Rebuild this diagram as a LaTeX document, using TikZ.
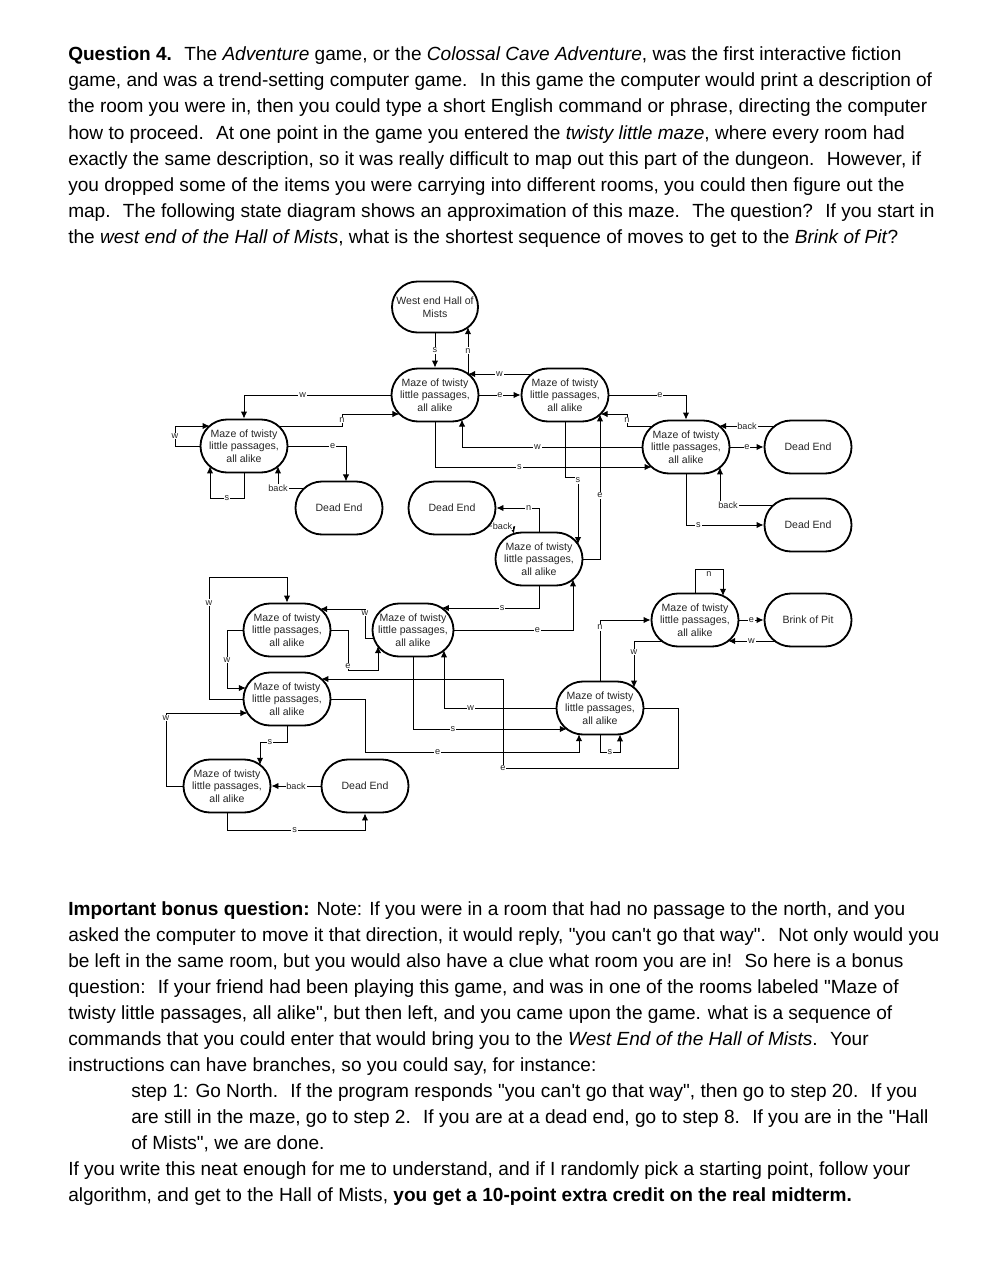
\documentclass[tikz,border=0pt]{standalone}
\usepackage{fontspec}
\setmainfont{Liberation Sans}[Ligatures=TeXOff]
\usetikzlibrary{calc,arrows.meta}
\tikzset{
  room/.style={draw, line width=1.3pt, rounded corners=0.6625cm, minimum width=2.175cm, minimum height=1.325cm, inner sep=0pt, align=center, font=\fontsize{7.5}{8.9}\selectfont, text=black!85},
  arr/.style={line width=0.65pt, -{Latex[length=5pt,width=4.5pt]}},
  lbl/.style={font=\fontsize{6.5}{7}\selectfont, fill=white, inner sep=0.6pt, text=black!85},
  para/.style={anchor=base west, inner sep=0pt, font=\fontsize{13.55}{18.4}\selectfont},
}
\newcommand{\maze}{Maze of twisty\\little passages,\\all alike}
\begin{document}
\begin{tikzpicture}[x=0.025cm,y=-0.025cm]
\fill[white] (0,0) rectangle (994,1268);
\useasboundingbox (0,0) rectangle (994,1268);

% ---------- text ----------
\node[para] (q1) at (68,61) {\textbf{Question 4.}~ The \textit{Adventure} game, or the \textit{Colossal Cave Adventure}, was the first interactive fiction};
\node[para] (q2) at (68,87) {game, and was a trend-setting computer game.~ In this game the computer would print a description of};
\node[para] (q3) at (68,113) {the room you were in, then you could type a short English command or phrase, directing the computer};
\node[para] (q4) at (68,139) {how to proceed.~ At one point in the game you entered the \textit{twisty little maze}, where every room had};
\node[para] (q5) at (68,165) {exactly the same description, so it was really difficult to map out this part of the dungeon.~ However, if};
\node[para] (q6) at (68,191) {you dropped some of the items you were carrying into different rooms, you could then figure out the};
\node[para] (q7) at (68,217) {map.~ The following state diagram shows an approximation of this maze.~ The question?~ If you start in};
\node[para] (q8) at (68,243) {the \textit{west end of the Hall of Mists}, what is the shortest sequence of moves to get to the \textit{Brink of Pit}?};

\node[para] (b1) at (68,915) {\textbf{Important bonus question:} Note: If you were in a room that had no passage to the north, and you};
\node[para] (b2) at (68,941) {asked the computer to move it that direction, it would reply, "you can't go that way".~ Not only would you};
\node[para] (b3) at (68,967) {be left in the same room, but you would also have a clue what room you are in!~ So here is a bonus};
\node[para] (b4) at (68,993) {question:~ If your friend had been playing this game, and was in one of the rooms labeled "Maze of};
\node[para] (b5) at (68,1019) {twisty little passages, all alike", but then left, and you came upon the game. what is a sequence of};
\node[para] (b6) at (68,1045) {commands that you could enter that would bring you to the \textit{West End of the Hall of Mists}.~ Your};
\node[para] (b7) at (68,1071) {instructions can have branches, so you could say, for instance:};
\node[para] (b8) at (131,1097) {step 1: Go North.~ If the program responds "you can't go that way", then go to step 20.~ If you};
\node[para] (b9) at (131,1123) {are still in the maze, go to step 2.~ If you are at a dead end, go to step 8.~ If you are in the "Hall};
\node[para] (b10) at (131,1149) {of Mists", we are done.};
\node[para] (b11) at (68,1175) {If you write this neat enough for me to understand, and if I randomly pick a starting point, follow your};
\node[para] (b12) at (68,1201) {algorithm, and get to the Hall of Mists, \textbf{you get a 10-point extra credit on the real midterm.}};

% ---------- rooms ----------
\node[room, minimum width=2.15cm, minimum height=1.275cm, rounded corners=0.6375cm] (WE) at (435,307) {West end Hall of\\Mists};
\node[room] (M1) at (435,395) {\maze};
\node[room] (M2) at (565,395) {\maze};
\node[room] (M3) at (686,447) {\maze};
\node[room] (DR1) at (808,447) {Dead End};
\node[room] (DR2) at (808,525) {Dead End};
\node[room] (M4) at (244,446) {\maze};
\node[room] (DL) at (339,508) {Dead End};
\node[room] (DM) at (452,508) {Dead End};
\node[room] (M5) at (539,559) {\maze};
\node[room] (M6) at (287,630) {\maze};
\node[room, minimum width=2.025cm] (M7) at (413,630) {\maze};
\node[room] (M8) at (287,699) {\maze};
\node[room] (M9) at (227,786) {\maze};
\node[room] (DB) at (365,786) {Dead End};
\node[room] (M10) at (695,620) {\maze};
\node[room] (BP) at (808,620) {Brink of Pit};
\node[room] (M11) at (600,708) {\maze};

% ---------- connectors ----------
\draw[arr] (WE.south) -- node[lbl]{s} (M1.north);
\draw[arr] ($(M1)+(33,-21.1)$) -- node[lbl]{n} ($(WE)+(33,20.2)$);
\draw[arr] ($(M2)+(-34.4,-21)$) -- node[lbl]{w} ($(M1)+(33.2,-21)$);
\draw[arr] (M1.east) -- node[lbl]{e} (M2.west);
\draw[arr] (M1.west) -| node[lbl,pos=0.3]{w} (M4.north);
\draw[arr] ($(M4)+(34.4,-20)$) -- (342,426) -- node[lbl]{n} (342,414) -- ($(M1)+(-35.5,19)$);
\draw[arr] (M4.west) -- (175,446) -- node[lbl]{w} (175,426) -- ($(M4)+(-34.4,-20)$);
\draw[arr] (M4.south) -- (244,498) -- node[lbl]{s} (210,498) -- ($(M4)+(-34,20.3)$);
\draw[arr] ($(DL)+(-34.4,-20)$) -- (278,488) node[lbl]{back} -- ($(M4)+(34,20.3)$);
\draw[arr] (M4.east) -- node[lbl,pos=0.77]{e} (346,446) -- ($(DL)+(7,-26.5)$);
\draw[arr] (M2.east) -| node[lbl,pos=0.33]{e} (M3.north);
\draw[arr] ($(M3)+(-33.2,-21)$) -- (627,426) -- node[lbl]{n} (627,414) -- ($(M2)+(35.5,19)$);
\draw[arr] (M3.west) -- node[lbl,pos=0.58]{w} (462,447) -- ($(M1)+(27,24.5)$);
\draw[arr] (M1.south) -- (435,467) -- node[lbl,pos=0.39]{s} ($(M3)+(-34.4,20)$);
\draw[arr] ($(DR1)+(-33.2,-21)$) -- node[lbl]{back} ($(M3)+(33.2,-21)$);
\draw[arr] (M3.east) -- node[lbl]{e} (DR1.west);
\draw[arr] ($(DR2)+(-34.4,-20)$) -- node[lbl,pos=0.85]{back} (720,505) -- ($(M3)+(34,20.3)$);
\draw[arr] (M3.south) |- node[lbl,pos=0.58]{s} (DR2.west);
\draw[arr] (M2.south) -- (565,477) -- (578,477) -- node[lbl,pos=0.05]{s} ($(M5)+(39,-14.8)$);
\draw[arr] (M5.east) -- (600,559) -- node[lbl,pos=0.44]{e} ($(M2)+(35,19.4)$);
\draw[arr] (M5.north) |- node[lbl,pos=0.62]{n} (DM.east);
\draw[arr] ($(DM)+(36.4,18)$) -- node[lbl,pos=0.6]{back} (512,526) -- ($(M5)+(-25,-25.3)$);
\draw[arr] (M5.south) |- node[lbl,pos=0.69]{s} ($(M7)+(28.8,-22)$);
\draw[arr] (M7.east) -| node[lbl,pos=0.35]{e} ($(M5)+(34,20.3)$);
\draw[arr] ($(M7)+(-39.3,8)$) -- (365,638) -- node[lbl,pos=0.86]{w} (365,609) -- ($(M6)+(33.2,-21)$);
\draw[arr] (M6.east) -- (348,630) -- node[lbl,pos=0.9]{e} (348,670) -- (378,670) -- ($(M7)+(-35,16.2)$);
\draw[arr] (M8.west) -- (209,699) -- node[lbl,pos=0.79]{w} (209,577) -| (M6.north);
\draw[arr] (M6.west) -- (227,630) -- node[lbl,pos=0.52]{w} (227,688) -- ($(M8)+(-41.1,-11)$);
\draw[arr] (M9.west) -- (166,786) -- node[lbl,pos=0.93]{w} (166,713) -- ($(M8)+(-39.5,14)$);
\draw[arr] (M8.south) -- (287,742) -- node[lbl,pos=0.63]{s} (260,742) -- ($(M9)+(33,-21.1)$);
\draw[arr] (DB.west) -- node[lbl]{back} (M9.east);
\draw[arr] (M9.south) -- (227,830) -- node[lbl,pos=0.49]{s} (365,830) -- (DB.south);
\draw[arr] (M11.east) -- (678,708) -- (678,768) -- (503,768) node[lbl]{e} -- (503,679) -- ($(M8)+(34.4,-20)$);
\draw[arr] (M8.east) -- (365,699) -- (365,752) -- node[lbl,pos=0.34]{e} (579,752) -- ($(M11)+(-21,26.2)$);
\draw[arr] (M7.south) |- node[lbl,pos=0.63]{s} ($(M11)+(-33.2,21)$);
\draw[arr] (M11.west) -| node[lbl,pos=0.38]{w} ($(M7)+(31,20.3)$);
\draw[arr] (M11.south) -- (600,752) -- node[lbl]{s} (620,752) -- ($(M11)+(20,26.3)$);
\draw[arr] (M11.north) |- node[lbl,pos=0.44]{n} (M10.west);
\draw[arr] ($(M10)+(-33.2,21)$) -| node[lbl,pos=0.62]{w} ($(M11)+(34,-20.3)$);
\draw[arr] (M10.north) -- (695,569) -- node[lbl,fill=none,below=1pt]{n} (723,569) -- ($(M10)+(28,-24.1)$);
\draw[arr] (M10.east) -- node[lbl]{e} (BP.west);
\draw[arr] ($(BP)+(-33.2,21)$) -- node[lbl]{w} ($(M10)+(33.2,21)$);
\end{tikzpicture}
\end{document}
